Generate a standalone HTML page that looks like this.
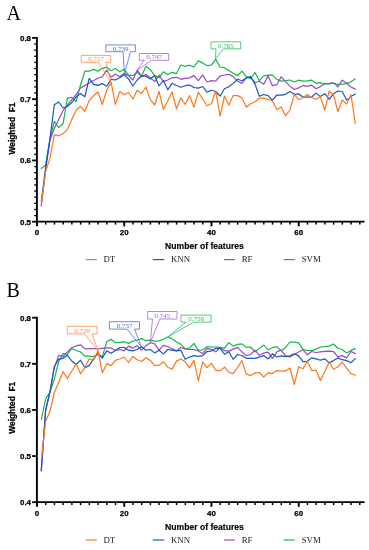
<!DOCTYPE html>
<html><head><meta charset="utf-8"><title>Figure</title>
<style>html,body{margin:0;padding:0;background:#fff}svg{display:block}</style></head><body>
<svg width="369" height="550" viewBox="0 0 369 550">
<rect width="369" height="550" fill="#fff"/>
<text x="6.6" y="19.5" font-family="Liberation Serif, serif" font-size="20" fill="#000">A</text>
<line x1="36.9" y1="37.0" x2="36.9" y2="222.6" stroke="#000" stroke-width="1.9"/>
<line x1="36.0" y1="221.7" x2="364.6" y2="221.7" stroke="#000" stroke-width="1.8"/>
<line x1="32.1" y1="37.90" x2="36.9" y2="37.90" stroke="#000" stroke-width="1.8"/>
<text x="31.0" y="40.80" font-family="Liberation Sans, sans-serif" font-weight="bold" font-size="7.9" stroke="#000" stroke-width="0.25" text-anchor="end">0.8</text>
<line x1="34.2" y1="44.03" x2="36.9" y2="44.03" stroke="#000" stroke-width="1.3"/>
<line x1="34.2" y1="50.15" x2="36.9" y2="50.15" stroke="#000" stroke-width="1.3"/>
<line x1="34.2" y1="56.28" x2="36.9" y2="56.28" stroke="#000" stroke-width="1.3"/>
<line x1="34.2" y1="62.41" x2="36.9" y2="62.41" stroke="#000" stroke-width="1.3"/>
<line x1="34.2" y1="68.53" x2="36.9" y2="68.53" stroke="#000" stroke-width="1.3"/>
<line x1="34.2" y1="74.66" x2="36.9" y2="74.66" stroke="#000" stroke-width="1.3"/>
<line x1="34.2" y1="80.79" x2="36.9" y2="80.79" stroke="#000" stroke-width="1.3"/>
<line x1="34.2" y1="86.91" x2="36.9" y2="86.91" stroke="#000" stroke-width="1.3"/>
<line x1="34.2" y1="93.04" x2="36.9" y2="93.04" stroke="#000" stroke-width="1.3"/>
<line x1="32.1" y1="99.17" x2="36.9" y2="99.17" stroke="#000" stroke-width="1.8"/>
<text x="31.0" y="102.07" font-family="Liberation Sans, sans-serif" font-weight="bold" font-size="7.9" stroke="#000" stroke-width="0.25" text-anchor="end">0.7</text>
<line x1="34.2" y1="105.29" x2="36.9" y2="105.29" stroke="#000" stroke-width="1.3"/>
<line x1="34.2" y1="111.42" x2="36.9" y2="111.42" stroke="#000" stroke-width="1.3"/>
<line x1="34.2" y1="117.55" x2="36.9" y2="117.55" stroke="#000" stroke-width="1.3"/>
<line x1="34.2" y1="123.67" x2="36.9" y2="123.67" stroke="#000" stroke-width="1.3"/>
<line x1="34.2" y1="129.80" x2="36.9" y2="129.80" stroke="#000" stroke-width="1.3"/>
<line x1="34.2" y1="135.93" x2="36.9" y2="135.93" stroke="#000" stroke-width="1.3"/>
<line x1="34.2" y1="142.05" x2="36.9" y2="142.05" stroke="#000" stroke-width="1.3"/>
<line x1="34.2" y1="148.18" x2="36.9" y2="148.18" stroke="#000" stroke-width="1.3"/>
<line x1="34.2" y1="154.31" x2="36.9" y2="154.31" stroke="#000" stroke-width="1.3"/>
<line x1="32.1" y1="160.43" x2="36.9" y2="160.43" stroke="#000" stroke-width="1.8"/>
<text x="31.0" y="163.33" font-family="Liberation Sans, sans-serif" font-weight="bold" font-size="7.9" stroke="#000" stroke-width="0.25" text-anchor="end">0.6</text>
<line x1="34.2" y1="166.56" x2="36.9" y2="166.56" stroke="#000" stroke-width="1.3"/>
<line x1="34.2" y1="172.69" x2="36.9" y2="172.69" stroke="#000" stroke-width="1.3"/>
<line x1="34.2" y1="178.81" x2="36.9" y2="178.81" stroke="#000" stroke-width="1.3"/>
<line x1="34.2" y1="184.94" x2="36.9" y2="184.94" stroke="#000" stroke-width="1.3"/>
<line x1="34.2" y1="191.07" x2="36.9" y2="191.07" stroke="#000" stroke-width="1.3"/>
<line x1="34.2" y1="197.19" x2="36.9" y2="197.19" stroke="#000" stroke-width="1.3"/>
<line x1="34.2" y1="203.32" x2="36.9" y2="203.32" stroke="#000" stroke-width="1.3"/>
<line x1="34.2" y1="209.45" x2="36.9" y2="209.45" stroke="#000" stroke-width="1.3"/>
<line x1="34.2" y1="215.57" x2="36.9" y2="215.57" stroke="#000" stroke-width="1.3"/>
<line x1="32.1" y1="221.70" x2="36.9" y2="221.70" stroke="#000" stroke-width="1.8"/>
<text x="31.0" y="224.60" font-family="Liberation Sans, sans-serif" font-weight="bold" font-size="7.9" stroke="#000" stroke-width="0.25" text-anchor="end">0.5</text>
<line x1="37.00" y1="221.7" x2="37.00" y2="226.29999999999998" stroke="#000" stroke-width="1.9"/>
<text x="37.00" y="235.00" font-family="Liberation Sans, sans-serif" font-weight="bold" font-size="7.9" stroke="#000" stroke-width="0.25" text-anchor="middle">0</text>
<line x1="45.72" y1="221.7" x2="45.72" y2="224.6" stroke="#000" stroke-width="1.5"/>
<line x1="54.45" y1="221.7" x2="54.45" y2="224.6" stroke="#000" stroke-width="1.5"/>
<line x1="63.17" y1="221.7" x2="63.17" y2="224.6" stroke="#000" stroke-width="1.5"/>
<line x1="71.90" y1="221.7" x2="71.90" y2="224.6" stroke="#000" stroke-width="1.5"/>
<line x1="80.62" y1="221.7" x2="80.62" y2="224.6" stroke="#000" stroke-width="1.5"/>
<line x1="89.34" y1="221.7" x2="89.34" y2="224.6" stroke="#000" stroke-width="1.5"/>
<line x1="98.07" y1="221.7" x2="98.07" y2="224.6" stroke="#000" stroke-width="1.5"/>
<line x1="106.79" y1="221.7" x2="106.79" y2="224.6" stroke="#000" stroke-width="1.5"/>
<line x1="115.52" y1="221.7" x2="115.52" y2="224.6" stroke="#000" stroke-width="1.5"/>
<line x1="124.24" y1="221.7" x2="124.24" y2="226.29999999999998" stroke="#000" stroke-width="1.9"/>
<text x="124.24" y="235.00" font-family="Liberation Sans, sans-serif" font-weight="bold" font-size="7.9" stroke="#000" stroke-width="0.25" text-anchor="middle">20</text>
<line x1="132.96" y1="221.7" x2="132.96" y2="224.6" stroke="#000" stroke-width="1.5"/>
<line x1="141.69" y1="221.7" x2="141.69" y2="224.6" stroke="#000" stroke-width="1.5"/>
<line x1="150.41" y1="221.7" x2="150.41" y2="224.6" stroke="#000" stroke-width="1.5"/>
<line x1="159.14" y1="221.7" x2="159.14" y2="224.6" stroke="#000" stroke-width="1.5"/>
<line x1="167.86" y1="221.7" x2="167.86" y2="224.6" stroke="#000" stroke-width="1.5"/>
<line x1="176.58" y1="221.7" x2="176.58" y2="224.6" stroke="#000" stroke-width="1.5"/>
<line x1="185.31" y1="221.7" x2="185.31" y2="224.6" stroke="#000" stroke-width="1.5"/>
<line x1="194.03" y1="221.7" x2="194.03" y2="224.6" stroke="#000" stroke-width="1.5"/>
<line x1="202.76" y1="221.7" x2="202.76" y2="224.6" stroke="#000" stroke-width="1.5"/>
<line x1="211.48" y1="221.7" x2="211.48" y2="226.29999999999998" stroke="#000" stroke-width="1.9"/>
<text x="211.48" y="235.00" font-family="Liberation Sans, sans-serif" font-weight="bold" font-size="7.9" stroke="#000" stroke-width="0.25" text-anchor="middle">40</text>
<line x1="220.20" y1="221.7" x2="220.20" y2="224.6" stroke="#000" stroke-width="1.5"/>
<line x1="228.93" y1="221.7" x2="228.93" y2="224.6" stroke="#000" stroke-width="1.5"/>
<line x1="237.65" y1="221.7" x2="237.65" y2="224.6" stroke="#000" stroke-width="1.5"/>
<line x1="246.38" y1="221.7" x2="246.38" y2="224.6" stroke="#000" stroke-width="1.5"/>
<line x1="255.10" y1="221.7" x2="255.10" y2="224.6" stroke="#000" stroke-width="1.5"/>
<line x1="263.82" y1="221.7" x2="263.82" y2="224.6" stroke="#000" stroke-width="1.5"/>
<line x1="272.55" y1="221.7" x2="272.55" y2="224.6" stroke="#000" stroke-width="1.5"/>
<line x1="281.27" y1="221.7" x2="281.27" y2="224.6" stroke="#000" stroke-width="1.5"/>
<line x1="290.00" y1="221.7" x2="290.00" y2="224.6" stroke="#000" stroke-width="1.5"/>
<line x1="298.72" y1="221.7" x2="298.72" y2="226.29999999999998" stroke="#000" stroke-width="1.9"/>
<text x="298.72" y="235.00" font-family="Liberation Sans, sans-serif" font-weight="bold" font-size="7.9" stroke="#000" stroke-width="0.25" text-anchor="middle">60</text>
<line x1="307.44" y1="221.7" x2="307.44" y2="224.6" stroke="#000" stroke-width="1.5"/>
<line x1="316.17" y1="221.7" x2="316.17" y2="224.6" stroke="#000" stroke-width="1.5"/>
<line x1="324.89" y1="221.7" x2="324.89" y2="224.6" stroke="#000" stroke-width="1.5"/>
<line x1="333.62" y1="221.7" x2="333.62" y2="224.6" stroke="#000" stroke-width="1.5"/>
<line x1="342.34" y1="221.7" x2="342.34" y2="224.6" stroke="#000" stroke-width="1.5"/>
<line x1="351.06" y1="221.7" x2="351.06" y2="224.6" stroke="#000" stroke-width="1.5"/>
<line x1="359.79" y1="221.7" x2="359.79" y2="224.6" stroke="#000" stroke-width="1.5"/>
<text transform="translate(14.5,128.5) rotate(-90)" font-family="Liberation Sans, sans-serif" font-weight="bold" font-size="8.4" stroke="#000" stroke-width="0.3" text-anchor="middle" xml:space="preserve">Weighted  F1</text>
<text x="204.5" y="248.5" font-family="Liberation Sans, sans-serif" font-weight="bold" font-size="8.6" stroke="#000" stroke-width="0.15" text-anchor="middle">Number of features</text>
<polyline points="41.3,168.5 45.6,165.2 50.0,139.0 54.3,121.4 58.7,127.6 63.1,123.5 67.4,98.2 71.8,97.4 76.2,101.7 80.5,85.0 84.9,71.2 89.2,71.2 93.6,69.4 98.0,71.2 102.3,68.3 106.7,67.2 111.1,70.7 115.4,68.5 119.8,71.8 124.1,69.4 128.5,75.1 132.9,75.6 137.2,72.3 141.6,76.0 145.9,66.3 150.3,69.6 154.7,75.6 159.0,77.8 163.4,71.8 167.8,74.5 172.1,72.3 176.5,73.6 180.8,65.0 185.2,66.3 189.6,65.2 193.9,67.0 198.3,60.9 202.7,62.9 207.0,65.7 211.4,65.2 215.7,59.4 220.1,67.0 224.5,67.7 228.8,70.4 233.2,73.2 237.6,75.6 241.9,71.1 246.3,76.6 250.6,78.6 255.0,72.5 259.4,80.7 263.7,75.9 268.1,75.2 272.4,74.8 276.8,79.3 281.2,81.1 285.5,80.7 289.9,80.0 294.3,82.0 298.6,80.2 303.0,81.1 307.3,80.9 311.7,80.2 316.1,83.3 320.4,82.7 324.8,84.0 329.2,83.8 333.5,83.1 337.9,84.5 342.2,84.2 346.6,83.6 351.0,81.8 355.3,78.8" fill="none" stroke="#0dbb42" stroke-width="1.2" stroke-linejoin="round" stroke-linecap="round"/>
<polyline points="41.3,206.0 45.6,170.0 50.0,140.0 54.3,128.5 58.7,119.5 63.1,110.5 67.4,104.8 71.8,99.7 76.2,94.5 80.5,88.0 84.9,85.6 89.2,83.0 93.6,80.5 98.0,78.3 102.3,76.7 106.7,70.2 111.1,77.2 115.4,74.0 119.8,76.7 124.1,73.4 128.5,75.6 132.9,80.0 137.2,70.2 141.6,76.2 145.9,74.5 150.3,77.8 154.7,81.6 159.0,75.1 163.4,81.6 167.8,80.0 172.1,77.8 176.5,77.3 180.8,79.3 185.2,78.3 189.6,77.9 193.9,75.6 198.3,80.6 202.7,74.9 207.0,82.0 211.4,80.6 215.7,81.0 220.1,76.2 224.5,75.0 228.8,74.3 233.2,76.6 237.6,81.3 241.9,83.4 246.3,77.9 250.6,77.2 255.0,82.7 259.4,81.2 263.7,84.2 268.1,75.9 272.4,85.7 276.8,84.7 281.2,76.8 285.5,81.3 289.9,86.1 294.3,89.5 298.6,87.9 303.0,85.4 307.3,86.3 311.7,85.2 316.1,88.8 320.4,86.6 324.8,83.6 329.2,83.4 333.5,82.9 337.9,86.8 342.2,80.2 346.6,83.0 351.0,87.0 355.3,89.1" fill="none" stroke="#9a48c6" stroke-width="1.2" stroke-linejoin="round" stroke-linecap="round"/>
<polyline points="41.3,202.0 45.6,167.7 50.0,138.5 54.3,104.8 58.7,102.0 63.1,108.0 67.4,106.5 71.8,102.5 76.2,96.8 80.5,93.5 84.9,96.7 89.2,78.4 93.6,84.3 98.0,85.4 102.3,83.6 106.7,86.3 111.1,79.4 115.4,80.0 119.8,77.8 124.1,74.8 128.5,78.9 132.9,86.0 137.2,80.0 141.6,75.8 145.9,76.2 150.3,78.9 154.7,75.6 159.0,86.0 163.4,80.5 167.8,89.8 172.1,83.2 176.5,85.5 180.8,87.3 185.2,85.7 189.6,85.1 193.9,87.5 198.3,88.1 202.7,86.5 207.0,92.2 211.4,90.2 215.7,91.5 220.1,96.0 224.5,88.8 228.8,86.8 233.2,83.4 237.6,79.3 241.9,80.7 246.3,77.9 250.6,76.6 255.0,84.1 259.4,96.3 263.7,94.5 268.1,95.6 272.4,100.4 276.8,95.0 281.2,95.2 285.5,94.3 289.9,91.6 294.3,94.3 298.6,93.9 303.0,97.1 307.3,97.2 311.7,97.0 316.1,93.1 320.4,96.6 324.8,93.7 329.2,99.3 333.5,93.8 337.9,91.0 342.2,91.5 346.6,100.1 351.0,96.6 355.3,94.1" fill="none" stroke="#1557c4" stroke-width="1.2" stroke-linejoin="round" stroke-linecap="round"/>
<polyline points="41.3,203.7 45.6,171.8 50.0,157.9 54.3,134.8 58.7,135.8 63.1,133.7 67.4,129.3 71.8,119.5 76.2,110.0 80.5,106.3 84.9,111.5 89.2,100.5 93.6,95.8 98.0,92.0 102.3,104.5 106.7,90.3 111.1,82.4 115.4,104.5 119.8,91.4 124.1,94.7 128.5,92.5 132.9,99.0 137.2,90.3 141.6,93.6 145.9,87.0 150.3,99.6 154.7,105.0 159.0,91.4 163.4,109.4 167.8,100.7 172.1,92.0 176.5,108.8 180.8,97.8 185.2,104.5 189.6,95.6 193.9,107.2 198.3,92.2 202.7,99.0 207.0,105.8 211.4,103.8 215.7,90.9 220.1,116.1 224.5,96.0 228.8,105.2 233.2,95.6 237.6,95.6 241.9,97.7 246.3,107.2 250.6,103.8 255.0,101.8 259.4,98.0 263.7,98.2 268.1,99.3 272.4,100.7 276.8,109.7 281.2,107.0 285.5,115.8 289.9,110.0 294.3,94.3 298.6,99.7 303.0,97.8 307.3,94.5 311.7,97.5 316.1,99.3 320.4,96.6 324.8,110.2 329.2,91.1 333.5,95.2 337.9,111.5 342.2,100.0 346.6,103.9 351.0,94.5 355.3,123.8" fill="none" stroke="#ff7618" stroke-width="1.2" stroke-linejoin="round" stroke-linecap="round"/>
<path d="M81.3,55.4H110.7V62.3H105.80L111.0,82.5L98.45,62.3H81.3Z" fill="none" stroke="#ff8d45" stroke-width="0.8" stroke-linejoin="miter"/><text x="96.0" y="61.1" font-family="Liberation Serif, serif" font-size="7.0" fill="#ff8d45" text-anchor="middle">0.727</text>
<path d="M105.8,44.9H135.4V51.7H130.47L124.4,74.2L123.07,51.7H105.8Z" fill="none" stroke="#3f76cc" stroke-width="0.8" stroke-linejoin="miter"/><text x="120.6" y="50.5" font-family="Liberation Serif, serif" font-size="7.0" fill="#3f76cc" text-anchor="middle">0.739</text>
<path d="M139.3,53.5H168.7V60.3H151.55L136.8,70.6L144.20,60.3H139.3Z" fill="none" stroke="#a964cf" stroke-width="0.8" stroke-linejoin="miter"/><text x="154.0" y="59.1" font-family="Liberation Serif, serif" font-size="7.0" fill="#a964cf" text-anchor="middle">0.747</text>
<path d="M211.0,41.8H240.7V48.8H223.38L215.5,59.2L215.95,48.8H211.0Z" fill="none" stroke="#27c058" stroke-width="0.8" stroke-linejoin="miter"/><text x="225.8" y="47.6" font-family="Liberation Serif, serif" font-size="7.0" fill="#27c058" text-anchor="middle">0.765</text>
<line x1="85.7" y1="259.6" x2="97.0" y2="259.6" stroke="#ff7618" stroke-width="1.15"/>
<text x="103.5" y="262.4" font-family="Liberation Serif, serif" font-size="8.8" fill="#1a1a1a">DT</text>
<line x1="152.8" y1="259.6" x2="164.2" y2="259.6" stroke="#1557c4" stroke-width="1.15"/>
<text x="171.0" y="262.4" font-family="Liberation Serif, serif" font-size="8.8" fill="#1a1a1a">KNN</text>
<line x1="223.9" y1="259.6" x2="234.9" y2="259.6" stroke="#9a48c6" stroke-width="1.15"/>
<text x="241.7" y="262.4" font-family="Liberation Serif, serif" font-size="8.8" fill="#1a1a1a">RF</text>
<line x1="283.5" y1="259.6" x2="294.8" y2="259.6" stroke="#0dbb42" stroke-width="1.15"/>
<text x="301.7" y="262.4" font-family="Liberation Serif, serif" font-size="8.8" fill="#1a1a1a">SVM</text>
<text x="6.6" y="297.4" font-family="Liberation Serif, serif" font-size="20" fill="#000">B</text>
<line x1="36.9" y1="316.8" x2="36.9" y2="503.09999999999997" stroke="#000" stroke-width="1.9"/>
<line x1="36.0" y1="502.2" x2="364.6" y2="502.2" stroke="#000" stroke-width="1.8"/>
<line x1="32.1" y1="317.70" x2="36.9" y2="317.70" stroke="#000" stroke-width="1.8"/>
<text x="31.0" y="320.60" font-family="Liberation Sans, sans-serif" font-weight="bold" font-size="7.9" stroke="#000" stroke-width="0.25" text-anchor="end">0.8</text>
<line x1="32.1" y1="363.82" x2="36.9" y2="363.82" stroke="#000" stroke-width="1.8"/>
<text x="31.0" y="366.72" font-family="Liberation Sans, sans-serif" font-weight="bold" font-size="7.9" stroke="#000" stroke-width="0.25" text-anchor="end">0.7</text>
<line x1="32.1" y1="409.95" x2="36.9" y2="409.95" stroke="#000" stroke-width="1.8"/>
<text x="31.0" y="412.85" font-family="Liberation Sans, sans-serif" font-weight="bold" font-size="7.9" stroke="#000" stroke-width="0.25" text-anchor="end">0.6</text>
<line x1="32.1" y1="456.07" x2="36.9" y2="456.07" stroke="#000" stroke-width="1.8"/>
<text x="31.0" y="458.97" font-family="Liberation Sans, sans-serif" font-weight="bold" font-size="7.9" stroke="#000" stroke-width="0.25" text-anchor="end">0.5</text>
<line x1="32.1" y1="502.20" x2="36.9" y2="502.20" stroke="#000" stroke-width="1.8"/>
<text x="31.0" y="505.10" font-family="Liberation Sans, sans-serif" font-weight="bold" font-size="7.9" stroke="#000" stroke-width="0.25" text-anchor="end">0.4</text>
<line x1="37.00" y1="502.2" x2="37.00" y2="506.8" stroke="#000" stroke-width="1.9"/>
<text x="37.00" y="515.50" font-family="Liberation Sans, sans-serif" font-weight="bold" font-size="7.9" stroke="#000" stroke-width="0.25" text-anchor="middle">0</text>
<line x1="45.72" y1="502.2" x2="45.72" y2="505.09999999999997" stroke="#000" stroke-width="1.5"/>
<line x1="54.45" y1="502.2" x2="54.45" y2="505.09999999999997" stroke="#000" stroke-width="1.5"/>
<line x1="63.17" y1="502.2" x2="63.17" y2="505.09999999999997" stroke="#000" stroke-width="1.5"/>
<line x1="71.90" y1="502.2" x2="71.90" y2="505.09999999999997" stroke="#000" stroke-width="1.5"/>
<line x1="80.62" y1="502.2" x2="80.62" y2="505.09999999999997" stroke="#000" stroke-width="1.5"/>
<line x1="89.34" y1="502.2" x2="89.34" y2="505.09999999999997" stroke="#000" stroke-width="1.5"/>
<line x1="98.07" y1="502.2" x2="98.07" y2="505.09999999999997" stroke="#000" stroke-width="1.5"/>
<line x1="106.79" y1="502.2" x2="106.79" y2="505.09999999999997" stroke="#000" stroke-width="1.5"/>
<line x1="115.52" y1="502.2" x2="115.52" y2="505.09999999999997" stroke="#000" stroke-width="1.5"/>
<line x1="124.24" y1="502.2" x2="124.24" y2="506.8" stroke="#000" stroke-width="1.9"/>
<text x="124.24" y="515.50" font-family="Liberation Sans, sans-serif" font-weight="bold" font-size="7.9" stroke="#000" stroke-width="0.25" text-anchor="middle">20</text>
<line x1="132.96" y1="502.2" x2="132.96" y2="505.09999999999997" stroke="#000" stroke-width="1.5"/>
<line x1="141.69" y1="502.2" x2="141.69" y2="505.09999999999997" stroke="#000" stroke-width="1.5"/>
<line x1="150.41" y1="502.2" x2="150.41" y2="505.09999999999997" stroke="#000" stroke-width="1.5"/>
<line x1="159.14" y1="502.2" x2="159.14" y2="505.09999999999997" stroke="#000" stroke-width="1.5"/>
<line x1="167.86" y1="502.2" x2="167.86" y2="505.09999999999997" stroke="#000" stroke-width="1.5"/>
<line x1="176.58" y1="502.2" x2="176.58" y2="505.09999999999997" stroke="#000" stroke-width="1.5"/>
<line x1="185.31" y1="502.2" x2="185.31" y2="505.09999999999997" stroke="#000" stroke-width="1.5"/>
<line x1="194.03" y1="502.2" x2="194.03" y2="505.09999999999997" stroke="#000" stroke-width="1.5"/>
<line x1="202.76" y1="502.2" x2="202.76" y2="505.09999999999997" stroke="#000" stroke-width="1.5"/>
<line x1="211.48" y1="502.2" x2="211.48" y2="506.8" stroke="#000" stroke-width="1.9"/>
<text x="211.48" y="515.50" font-family="Liberation Sans, sans-serif" font-weight="bold" font-size="7.9" stroke="#000" stroke-width="0.25" text-anchor="middle">40</text>
<line x1="220.20" y1="502.2" x2="220.20" y2="505.09999999999997" stroke="#000" stroke-width="1.5"/>
<line x1="228.93" y1="502.2" x2="228.93" y2="505.09999999999997" stroke="#000" stroke-width="1.5"/>
<line x1="237.65" y1="502.2" x2="237.65" y2="505.09999999999997" stroke="#000" stroke-width="1.5"/>
<line x1="246.38" y1="502.2" x2="246.38" y2="505.09999999999997" stroke="#000" stroke-width="1.5"/>
<line x1="255.10" y1="502.2" x2="255.10" y2="505.09999999999997" stroke="#000" stroke-width="1.5"/>
<line x1="263.82" y1="502.2" x2="263.82" y2="505.09999999999997" stroke="#000" stroke-width="1.5"/>
<line x1="272.55" y1="502.2" x2="272.55" y2="505.09999999999997" stroke="#000" stroke-width="1.5"/>
<line x1="281.27" y1="502.2" x2="281.27" y2="505.09999999999997" stroke="#000" stroke-width="1.5"/>
<line x1="290.00" y1="502.2" x2="290.00" y2="505.09999999999997" stroke="#000" stroke-width="1.5"/>
<line x1="298.72" y1="502.2" x2="298.72" y2="506.8" stroke="#000" stroke-width="1.9"/>
<text x="298.72" y="515.50" font-family="Liberation Sans, sans-serif" font-weight="bold" font-size="7.9" stroke="#000" stroke-width="0.25" text-anchor="middle">60</text>
<line x1="307.44" y1="502.2" x2="307.44" y2="505.09999999999997" stroke="#000" stroke-width="1.5"/>
<line x1="316.17" y1="502.2" x2="316.17" y2="505.09999999999997" stroke="#000" stroke-width="1.5"/>
<line x1="324.89" y1="502.2" x2="324.89" y2="505.09999999999997" stroke="#000" stroke-width="1.5"/>
<line x1="333.62" y1="502.2" x2="333.62" y2="505.09999999999997" stroke="#000" stroke-width="1.5"/>
<line x1="342.34" y1="502.2" x2="342.34" y2="505.09999999999997" stroke="#000" stroke-width="1.5"/>
<line x1="351.06" y1="502.2" x2="351.06" y2="505.09999999999997" stroke="#000" stroke-width="1.5"/>
<line x1="359.79" y1="502.2" x2="359.79" y2="505.09999999999997" stroke="#000" stroke-width="1.5"/>
<text transform="translate(14.5,407.8) rotate(-90)" font-family="Liberation Sans, sans-serif" font-weight="bold" font-size="8.4" stroke="#000" stroke-width="0.3" text-anchor="middle" xml:space="preserve">Weighted  F1</text>
<text x="204.5" y="529.7" font-family="Liberation Sans, sans-serif" font-weight="bold" font-size="8.6" stroke="#000" stroke-width="0.15" text-anchor="middle">Number of features</text>
<polyline points="41.3,419.5 45.6,399.1 50.0,392.0 54.3,379.2 58.7,361.8 63.1,353.6 67.4,354.3 71.8,348.5 76.2,350.5 80.5,352.0 84.9,356.1 89.2,356.1 93.6,356.5 98.0,354.0 102.3,356.8 106.7,341.8 111.1,339.4 115.4,342.6 119.8,342.4 124.1,341.7 128.5,343.4 132.9,341.3 137.2,340.0 141.6,338.6 145.9,340.7 150.3,340.2 154.7,341.1 159.0,340.9 163.4,339.3 167.8,337.0 172.1,338.6 176.5,342.0 180.8,344.1 185.2,348.8 189.6,348.1 193.9,343.4 198.3,350.2 202.7,350.0 207.0,346.6 211.4,347.0 215.7,347.0 220.1,347.3 224.5,348.4 228.8,342.7 233.2,346.1 237.6,344.3 241.9,343.9 246.3,347.4 250.6,347.0 255.0,351.8 259.4,348.4 263.7,345.2 268.1,349.7 272.4,347.7 276.8,346.6 281.2,350.7 285.5,347.7 289.9,342.0 294.3,342.2 298.6,342.9 303.0,349.7 307.3,350.4 311.7,350.7 316.1,349.1 320.4,347.0 324.8,346.7 329.2,346.1 333.5,344.0 337.9,348.2 342.2,349.5 346.6,352.9 351.0,350.4 355.3,348.4" fill="none" stroke="#0dbb42" stroke-width="1.2" stroke-linejoin="round" stroke-linecap="round"/>
<polyline points="41.3,470.6 45.6,410.7 50.0,391.5 54.3,367.8 58.7,355.4 63.1,356.7 67.4,351.9 71.8,347.8 76.2,345.8 80.5,344.8 84.9,348.9 89.2,348.6 93.6,348.6 98.0,349.0 102.3,348.3 106.7,347.9 111.1,347.9 115.4,350.5 119.8,349.5 124.1,350.9 128.5,346.1 132.9,348.1 137.2,345.7 141.6,350.2 145.9,345.7 150.3,342.7 154.7,343.8 159.0,350.2 163.4,345.4 167.8,346.8 172.1,348.8 176.5,350.9 180.8,347.5 185.2,348.8 189.6,349.5 193.9,349.5 198.3,350.9 202.7,353.7 207.0,348.4 211.4,349.7 215.7,351.8 220.1,347.7 224.5,350.7 228.8,351.1 233.2,349.1 237.6,347.4 241.9,351.8 246.3,355.6 250.6,354.5 255.0,350.1 259.4,355.6 263.7,353.1 268.1,352.1 272.4,358.3 276.8,351.8 281.2,350.1 285.5,355.9 289.9,357.0 294.3,354.5 298.6,352.1 303.0,349.7 307.3,354.8 311.7,351.5 316.1,352.5 320.4,351.8 324.8,351.4 329.2,351.1 333.5,351.5 337.9,356.8 342.2,355.6 346.6,357.9 351.0,351.5 355.3,353.6" fill="none" stroke="#9a48c6" stroke-width="1.2" stroke-linejoin="round" stroke-linecap="round"/>
<polyline points="41.3,470.6 45.6,410.7 50.0,391.5 54.3,366.7 58.7,359.2 63.1,358.3 67.4,355.3 71.8,361.0 76.2,364.5 80.5,360.2 84.9,367.7 89.2,365.6 93.6,358.8 98.0,353.4 102.3,358.1 106.7,350.7 111.1,353.3 115.4,350.6 119.8,347.5 124.1,347.5 128.5,350.2 132.9,350.9 137.2,349.5 141.6,346.8 145.9,350.2 150.3,349.5 154.7,352.9 159.0,350.2 163.4,353.9 167.8,349.5 172.1,350.2 176.5,350.9 180.8,350.2 185.2,359.3 189.6,357.0 193.9,355.6 198.3,356.3 202.7,355.6 207.0,351.5 211.4,351.1 215.7,348.4 220.1,348.4 224.5,354.2 228.8,351.8 233.2,359.3 237.6,354.5 241.9,355.5 246.3,358.3 250.6,358.3 255.0,358.3 259.4,357.2 263.7,355.6 268.1,358.9 272.4,353.8 276.8,357.0 281.2,355.9 285.5,356.6 289.9,355.9 294.3,353.8 298.6,355.9 303.0,361.6 307.3,361.3 311.7,357.9 316.1,358.9 320.4,360.2 324.8,358.9 329.2,362.7 333.5,360.6 337.9,357.9 342.2,359.7 346.6,360.6 351.0,362.7 355.3,358.6" fill="none" stroke="#1557c4" stroke-width="1.2" stroke-linejoin="round" stroke-linecap="round"/>
<polyline points="41.3,460.4 45.6,421.6 50.0,411.3 54.3,392.5 58.7,382.2 63.1,371.6 67.4,378.5 71.8,371.0 76.2,364.2 80.5,373.8 84.9,367.7 89.2,358.8 93.6,360.2 98.0,350.7 102.3,372.9 106.7,363.6 111.1,365.6 115.4,360.3 119.8,359.0 124.1,357.0 128.5,362.5 132.9,356.3 137.2,359.7 141.6,361.5 145.9,357.7 150.3,360.4 154.7,365.6 159.0,365.2 163.4,361.8 167.8,367.2 172.1,369.3 176.5,361.1 180.8,359.0 185.2,361.8 189.6,367.9 193.9,360.4 198.3,380.8 202.7,361.9 207.0,367.5 211.4,363.4 215.7,370.2 220.1,370.9 224.5,367.2 228.8,372.2 233.2,373.6 237.6,367.5 241.9,360.6 246.3,373.9 250.6,375.6 255.0,372.9 259.4,372.5 263.7,377.0 268.1,372.9 272.4,373.6 276.8,370.6 281.2,371.1 285.5,370.9 289.9,368.1 294.3,384.5 298.6,366.8 303.0,368.8 307.3,361.3 311.7,370.6 316.1,370.2 320.4,380.4 324.8,371.5 329.2,362.0 333.5,369.2 337.9,366.8 342.2,362.0 346.6,368.1 351.0,373.6 355.3,375.2" fill="none" stroke="#ff7618" stroke-width="1.2" stroke-linejoin="round" stroke-linecap="round"/>
<path d="M67.3,326.3H97.1V333.9H92.13L98.0,350.7L84.68,333.9H67.3Z" fill="none" stroke="#ff8d45" stroke-width="0.8" stroke-linejoin="miter"/><text x="82.2" y="332.7" font-family="Liberation Serif, serif" font-size="7.0" fill="#ff8d45" text-anchor="middle">0.728</text>
<path d="M109.4,321.7H139.5V329.1H134.48L141.6,347.0L126.96,329.1H109.4Z" fill="none" stroke="#3f76cc" stroke-width="0.8" stroke-linejoin="miter"/><text x="124.5" y="327.9" font-family="Liberation Serif, serif" font-size="7.0" fill="#3f76cc" text-anchor="middle">0.737</text>
<path d="M147.6,311.5H176.95V319.0H159.83L150.3,342.8L152.49,319.0H147.6Z" fill="none" stroke="#a964cf" stroke-width="0.8" stroke-linejoin="miter"/><text x="162.3" y="317.8" font-family="Liberation Serif, serif" font-size="7.0" fill="#a964cf" text-anchor="middle">0.745</text>
<path d="M181.0,315.1H211.1V322.1H193.54L167.8,337.0L186.02,322.1H181.0Z" fill="none" stroke="#27c058" stroke-width="0.8" stroke-linejoin="miter"/><text x="196.1" y="320.9" font-family="Liberation Serif, serif" font-size="7.0" fill="#27c058" text-anchor="middle">0.758</text>
<line x1="85.7" y1="540.0" x2="97.0" y2="540.0" stroke="#ff7618" stroke-width="1.15"/>
<text x="103.5" y="542.8" font-family="Liberation Serif, serif" font-size="8.8" fill="#1a1a1a">DT</text>
<line x1="152.8" y1="540.0" x2="164.2" y2="540.0" stroke="#1557c4" stroke-width="1.15"/>
<text x="171.0" y="542.8" font-family="Liberation Serif, serif" font-size="8.8" fill="#1a1a1a">KNN</text>
<line x1="223.9" y1="540.0" x2="234.9" y2="540.0" stroke="#9a48c6" stroke-width="1.15"/>
<text x="241.7" y="542.8" font-family="Liberation Serif, serif" font-size="8.8" fill="#1a1a1a">RF</text>
<line x1="283.5" y1="540.0" x2="294.8" y2="540.0" stroke="#0dbb42" stroke-width="1.15"/>
<text x="301.7" y="542.8" font-family="Liberation Serif, serif" font-size="8.8" fill="#1a1a1a">SVM</text>
</svg></body></html>
